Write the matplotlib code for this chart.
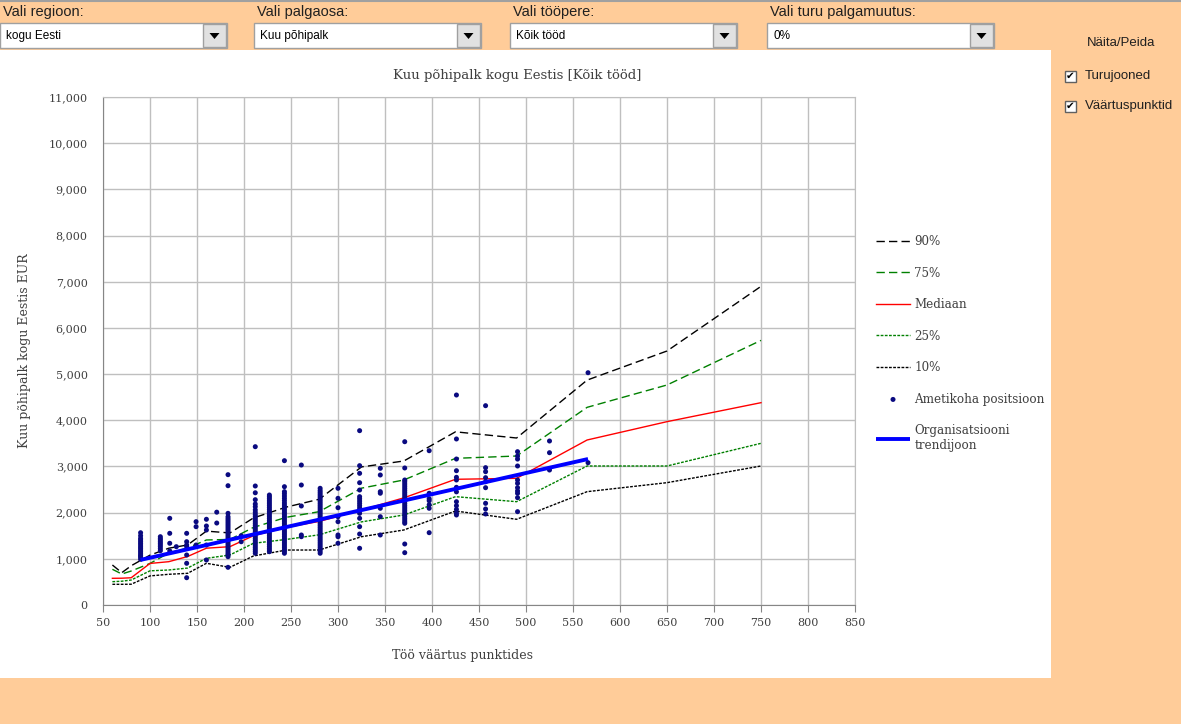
import matplotlib
matplotlib.use("Agg")
import matplotlib.pyplot as plt
from matplotlib.patches import Rectangle, Polygon
from matplotlib.ticker import FuncFormatter, MultipleLocator

# Market lines (job value points -> monthly base salary EUR)
grade = [60, 70, 80, 100, 120, 140, 160, 185, 210, 245, 280, 325, 370, 425, 490, 565, 650, 750]
p90 = [866, 700, 850, 1080, 1230, 1300, 1600, 1560, 1885, 2120, 2290, 2990, 3118, 3750, 3616, 4870, 5500, 6900]
p75 = [773, 671, 736, 900, 1126, 1234, 1408, 1420, 1680, 1899, 2021, 2530, 2707, 3176, 3226, 4280, 4764, 5730]
p50 = [578, 580, 590, 900, 938, 1050, 1230, 1263, 1500, 1680, 1810, 2057, 2320, 2722, 2743, 3573, 3970, 4381]
p25 = [505, 515, 541, 740, 758, 800, 1011, 1083, 1336, 1420, 1520, 1800, 1949, 2346, 2237, 3010, 3010, 3501]
p10 = [448, 448, 450, 630, 665, 686, 903, 816, 1061, 1190, 1191, 1479, 1624, 2035, 1856, 2454, 2649, 3010]

# Organisation trend line
trend_x = [90, 566]
trend_y = [977, 3161]

# Job positions (one list of salaries per job value column)
pos_grades = [90, 111, 121, 128, 139, 149, 160, 171, 183, 197, 212, 227, 243, 261, 281,
              300, 323, 345, 371, 397, 426, 457, 491, 525, 566]
pos_salaries = [
    [990, 1030, 1060, 1083, 1120, 1154, 1190, 1228, 1260, 1299, 1335, 1371, 1410, 1443, 1500, 1565],
    [1176, 1220, 1263, 1300, 1336, 1370, 1408, 1440, 1479],
    [1170, 1336, 1552, 1877],
    [1263],
    [591, 903, 1083, 1263, 1299, 1371, 1552],
    [1299, 1696, 1804],
    [975, 1299, 1624, 1711, 1856],
    [1775, 2010],
    [816, 1046, 1080, 1110, 1150, 1190, 1230, 1270, 1310, 1350, 1390, 1430, 1470, 1510, 1550,
     1590, 1630, 1670, 1710, 1750, 1790, 1830, 1870, 1912, 1985, 2583, 2822],
    [1370, 1500],
    [1120, 1160, 1200, 1240, 1280, 1320, 1360, 1400, 1440, 1480, 1520, 1560, 1600, 1640, 1680,
     1720, 1760, 1800, 1840, 1880, 1920, 1960, 2007, 2060, 2129, 2187, 2280, 2430, 2577, 3428],
    [1154, 1190, 1230, 1270, 1310, 1350, 1390, 1430, 1470, 1510, 1550, 1590, 1630, 1670, 1710,
     1750, 1790, 1830, 1870, 1910, 1950, 1990, 2030, 2070, 2110, 2150, 2190, 2230, 2270, 2310, 2346, 2382],
    [1120, 1160, 1200, 1240, 1280, 1320, 1360, 1400, 1440, 1480, 1520, 1560, 1600, 1640, 1680,
     1720, 1760, 1800, 1840, 1880, 1920, 1960, 2000, 2040, 2080, 2120, 2165, 2210, 2260, 2310,
     2360, 2410, 2454, 2562, 3125],
    [1479, 1516, 2144, 2598, 3031],
    [1120, 1160, 1200, 1240, 1280, 1320, 1360, 1400, 1440, 1480, 1520, 1560, 1600, 1640, 1680,
     1720, 1760, 1800, 1840, 1880, 1920, 1960, 2000, 2040, 2080, 2120, 2160, 2200, 2240, 2280,
     2320, 2360, 2400, 2440, 2480, 2527],
    [1336, 1479, 1516, 1804, 1912, 2107, 2310, 2527],
    [1228, 1537, 1696, 1877, 1985, 2050, 2100, 2150, 2200, 2250, 2300, 2346, 2490, 2648, 2851, 3017, 3775],
    [1516, 1912, 2094, 2420, 2454, 2815, 2960],
    [1133, 1321, 1769, 1800, 1840, 1880, 1920, 1960, 2000, 2040, 2080, 2120, 2160, 2200, 2240,
     2280, 2320, 2360, 2400, 2440, 2480, 2520, 2560, 2600, 2640, 2680, 2707, 2967, 3536],
    [1566, 2094, 2170, 2258, 2300, 2419, 3341],
    [1949, 1990, 2070, 2150, 2237, 2450, 2548, 2707, 2765, 2908, 3161, 3595, 4547],
    [1971, 2079, 2202, 2540, 2670, 2757, 2887, 2974, 4316],
    [2021, 2324, 2419, 2470, 2540, 2635, 2707, 3010, 3160, 3226, 3320],
    [2923, 3298, 3551],
    [3081, 5030],
]

# Dashboard controls
control_labels = ["Vali regioon:", "Vali palgaosa:", "Vali tööpere:", "Vali turu palgamuutus:"]
control_values = ["kogu Eesti", "Kuu põhipalk", "Kõik tööd", "0%"]
toggle_labels = ["Turujooned", "Väärtuspunktid"]

W, H = 1181, 724
PEACH = "#FFCC99"
TXT = "#404040"


def fx(px):
    return px / W


def fy(py):
    return 1 - py / H


fig = plt.figure(figsize=(W / 100, H / 100), dpi=100, facecolor=PEACH)

# white chart panel
fig.add_artist(Rectangle((fx(0), fy(678)), fx(1051), (678 - 50) / H, transform=fig.transFigure,
                         facecolor="white", edgecolor="none", zorder=0))
fig.add_artist(plt.Line2D([0, 1], [fy(0.5), fy(0.5)], transform=fig.transFigure, color="#A0A0A0", lw=1.5))

# dropdowns
box_left = [0, 254, 510, 767]
for left, lab, val in zip(box_left, control_labels, control_values):
    fig.text(fx(left + 3), fy(12), lab, fontsize=10.5, family="Liberation Sans", color="#202020",
             va="center", ha="left")
    fig.add_artist(Rectangle((fx(left), fy(48)), fx(227), 25 / H, transform=fig.transFigure,
                             facecolor="white", edgecolor="#A0A0A0", lw=1))
    fig.add_artist(Rectangle((fx(left + 203), fy(47)), fx(23), 23 / H, transform=fig.transFigure,
                             facecolor="#E1E1E1", edgecolor="#A0A0A0", lw=1))
    cx = left + 214.5
    fig.add_artist(Polygon([(fx(cx - 5), fy(33)), (fx(cx + 5), fy(33)), (fx(cx), fy(39))],
                           transform=fig.transFigure, facecolor="black", edgecolor="none"))
    fig.text(fx(left + 6), fy(36), val, fontsize=8.5, family="Liberation Sans", color="black",
             va="center", ha="left")

# show / hide panel
fig.text(fx(1121), fy(43), "Näita/Peida", fontsize=9.5, family="Liberation Sans", color="#202020",
         ha="center", va="center")
for yy, lab in zip([76, 106], toggle_labels):
    fig.add_artist(Rectangle((fx(1065), fy(yy + 5.5)), fx(11), 11 / H, transform=fig.transFigure,
                             facecolor="white", edgecolor="#606060", lw=1))
    fig.text(fx(1070.5), fy(yy), "✔", fontsize=7.5, family="DejaVu Sans", color="black",
             ha="center", va="center")
    fig.text(fx(1085), fy(yy), lab, fontsize=9.5, family="Liberation Sans", color="#202020",
             ha="left", va="center")

# chart
ax = fig.add_axes([fx(103), fy(605), fx(855) - fx(103), (605 - 97) / H])
ax.set_facecolor("white")

l90, = ax.plot(grade, p90, color="black", lw=1, ls=(0, (6, 3)), label="90%", zorder=2)
l75, = ax.plot(grade, p75, color="#008000", lw=1, ls=(0, (6, 3)), label="75%", zorder=2)
l50, = ax.plot(grade, p50, color="#FF0000", lw=1, label="Mediaan", zorder=2)
l25, = ax.plot(grade, p25, color="#008000", lw=1, ls=(0, (2, 1)), label="25%", zorder=2)
l10, = ax.plot(grade, p10, color="black", lw=1, ls=(0, (2, 1)), label="10%", zorder=2)

px_list, py_list = [], []
for g, vals in zip(pos_grades, pos_salaries):
    px_list += [g] * len(vals)
    py_list += vals
pts = ax.scatter(px_list, py_list, s=13, color="#0A0A80", edgecolors="none", zorder=3,
                 label="Ametikoha positsioon")
ltr, = ax.plot(trend_x, trend_y, color="#0000FF", lw=2.8, solid_capstyle="butt", zorder=5,
               label="Organisatsiooni\ntrendijoon")

ax.set_xlim(50, 850)
ax.set_ylim(0, 11000)
ax.xaxis.set_major_locator(MultipleLocator(50))
ax.yaxis.set_major_locator(MultipleLocator(1000))
ax.yaxis.set_major_formatter(FuncFormatter(lambda v, p: f"{v:,.0f}"))
ax.grid(True, color="#BFBFBF", lw=1)
ax.set_axisbelow(True)
for s in ["top", "right"]:
    ax.spines[s].set_color("#BFBFBF")
for s in ["left", "bottom"]:
    ax.spines[s].set_color("#868686")
ax.tick_params(axis="x", length=5, color="#868686", labelsize=8, labelcolor=TXT, pad=4)
ax.tick_params(axis="y", length=0, labelsize=8, labelcolor=TXT, pad=11)
for t in ax.get_xticklabels() + ax.get_yticklabels():
    t.set_family("DejaVu Serif")

fig.text(fx(517), fy(76), "Kuu põhipalk kogu Eestis [Kõik tööd]", fontsize=9.5, family="DejaVu Serif",
         color=TXT, ha="center", va="center")
fig.text(fx(463), fy(655), "Töö väärtus punktides", fontsize=9, family="DejaVu Serif",
         color=TXT, ha="center", va="center")
fig.text(fx(25), fy(351), "Kuu põhipalk kogu Eestis EUR", fontsize=9, family="DejaVu Serif",
         color=TXT, ha="center", va="center", rotation=90)

leg = ax.legend(handles=[l90, l75, l50, l25, l10, pts, ltr], loc="upper left",
                bbox_to_anchor=(fx(876), fy(235)), bbox_transform=fig.transFigure,
                frameon=False, borderaxespad=0, borderpad=0, handlelength=2.85,
                handletextpad=0.35, labelspacing=1.55, prop={"family": "DejaVu Serif", "size": 8.6},
                scatterpoints=1)
for t in leg.get_texts():
    t.set_color(TXT)

fig.savefig("out.png", dpi=100, facecolor=PEACH)
